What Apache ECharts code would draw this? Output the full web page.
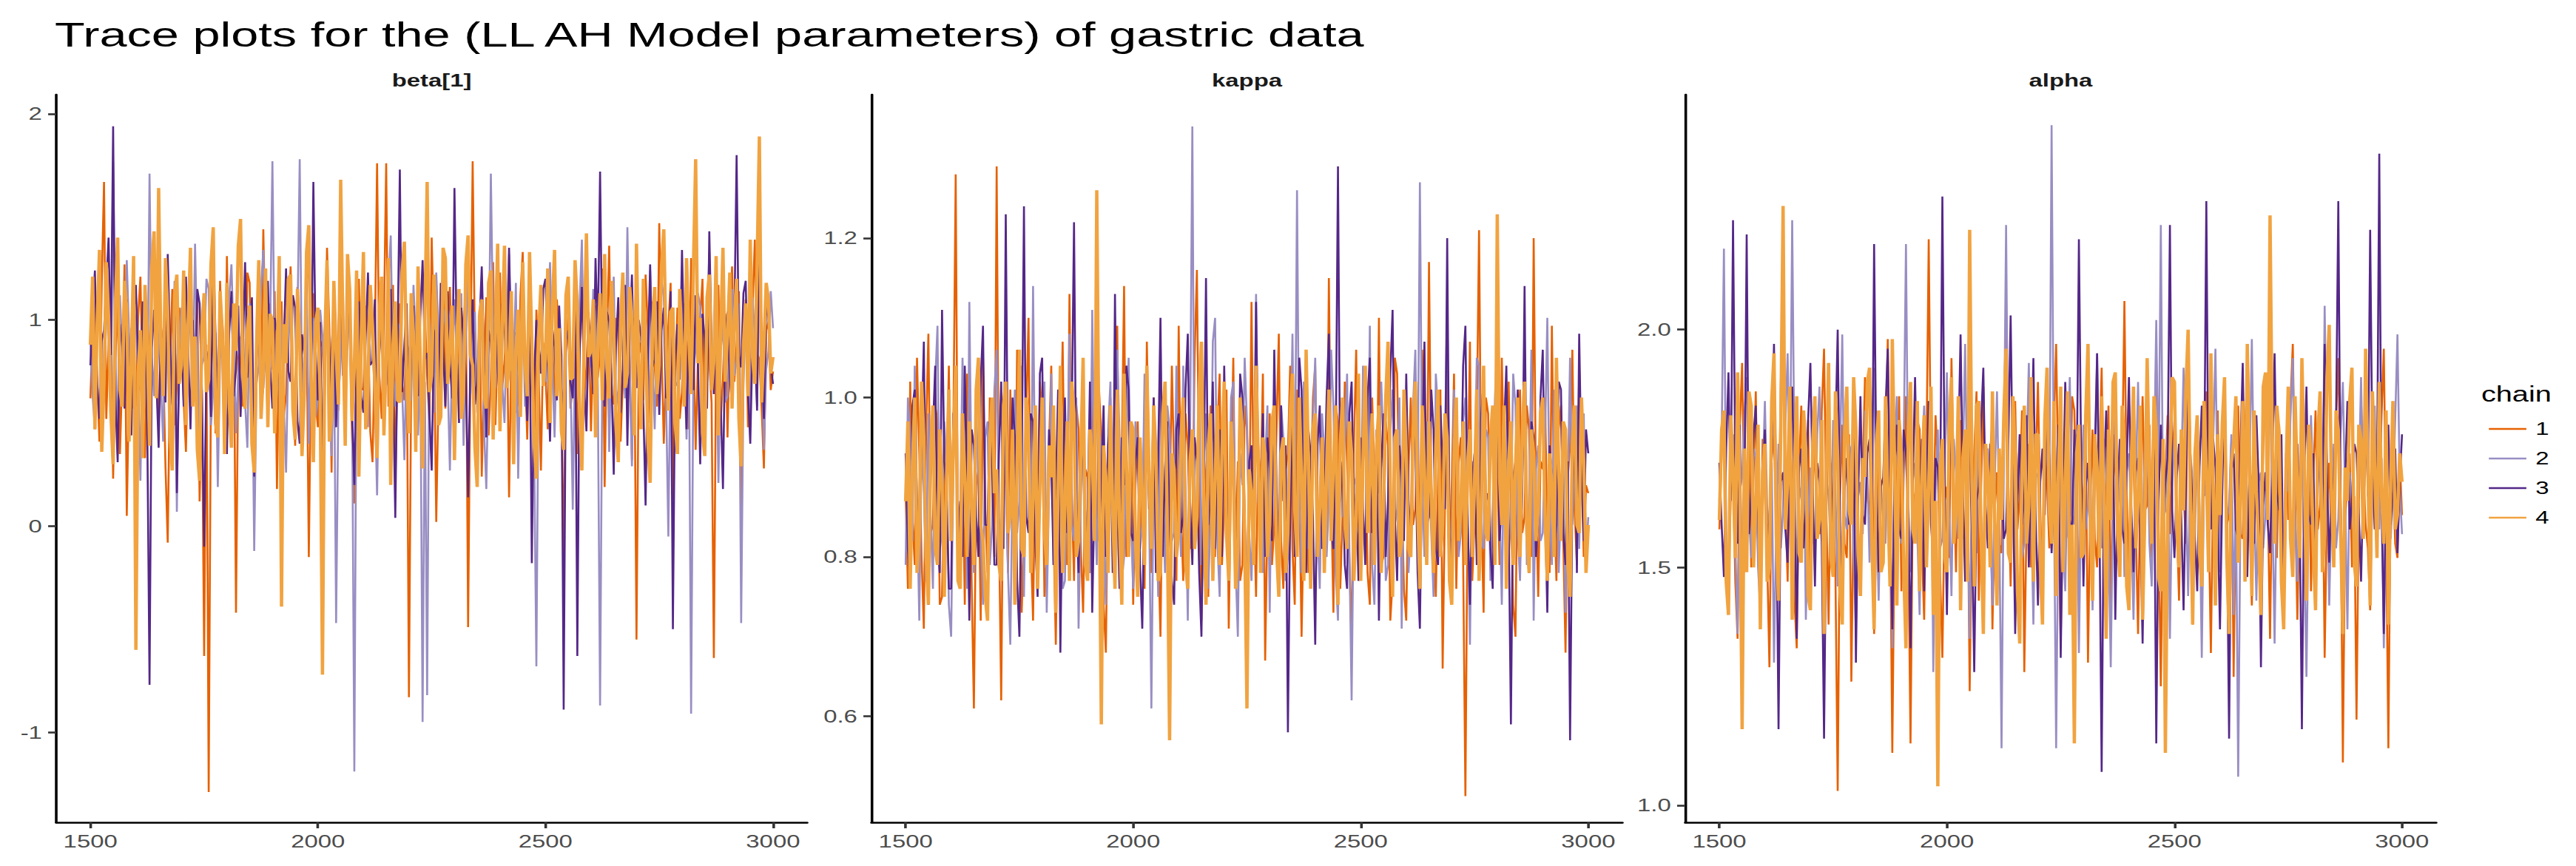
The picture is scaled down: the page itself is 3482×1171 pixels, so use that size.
<!DOCTYPE html>
<html>
<head>
<meta charset="utf-8">
<script src="https://cdn.jsdelivr.net/npm/echarts@6/dist/echarts.min.js"></script>
<style>
html, body { margin: 0; padding: 0; background: #ffffff; overflow: hidden; width: 3482px; height: 1171px; }
#chart { width: 2542px; height: 1171px; transform: scaleX(1.369788); transform-origin: 0 0; }
</style>
</head>
<body>
<div id="chart"></div>
<script>
// ---------------- DATA (values read/estimated from the reference trace plot, every 5th iteration) ----------------
const chainNames = ['1', '2', '3', '4'];
const panelTitles = ['beta[1]', 'kappa', 'alpha'];
const xTickLabels = [1500, 2000, 2500, 3000];
const betaTickLabels = [-1, 0, 1, 2];
const kappaTickLabels = [0.6, 0.8, 1.0, 1.2];
const alphaTickLabels = [1.0, 1.5, 2.0];
const firstIteration = 1500;
const iterationStep = 5;

const betaChain1 = [
0.62,0.94,1.05,0.71,0.41,1.18,1.67,0.52,0.88,1.09,0.23,0.80,1.12,0.35,0.74,1.27,0.05,0.68,0.96,0.57,
0.58,1.02,1.21,0.64,0.33,0.86,0.90,1.13,1.38,0.73,0.47,0.98,0.81,0.29,-0.08,0.77,1.15,0.49,0.69,1.06,
0.97,0.61,0.36,0.92,1.29,0.83,0.72,1.10,0.12,0.66,-0.63,0.88,-1.29,0.74,1.02,0.45,0.55,1.19,0.86,0.39,
1.31,0.70,0.44,1.04,-0.42,0.81,0.92,0.58,0.67,1.23,1.18,0.40,0.29,0.95,0.83,0.62,1.44,0.87,0.51,1.08,
0.76,1.14,0.18,0.85,1.09,0.53,0.64,0.99,1.26,0.71,0.39,1.16,0.95,0.48,0.70,1.01,-0.15,0.79,1.13,0.60,
0.48,0.90,0.87,0.63,1.35,0.97,0.26,1.11,0.79,0.56,1.04,0.84,0.58,1.22,0.93,0.43,0.11,0.76,1.20,0.67,
0.66,1.07,0.99,0.46,0.31,0.89,1.76,0.73,0.52,1.00,1.76,0.58,0.84,1.17,0.20,0.82,1.08,0.69,0.61,0.94,
-0.83,0.75,0.90,0.37,1.25,0.81,0.45,1.03,0.73,0.50,1.40,0.92,0.02,0.65,0.88,1.21,0.57,0.98,1.16,0.70,
0.38,0.96,0.82,0.59,0.97,1.15,-0.49,0.77,1.77,0.86,0.63,1.05,0.24,0.72,1.11,0.44,0.71,1.28,0.49,0.91,
1.23,0.67,0.80,1.02,0.14,0.85,0.95,0.55,0.60,1.12,1.33,0.78,0.42,0.99,0.86,0.31,1.05,0.74,0.27,0.89,
0.74,0.47,1.19,0.93,0.53,1.10,0.91,0.66,-0.21,0.84,1.02,0.57,0.68,1.16,0.35,0.80,1.28,0.62,0.77,1.04,
0.46,0.88,1.07,0.72,0.83,1.25,0.19,0.90,1.36,0.64,0.59,1.01,0.94,0.41,0.70,1.13,1.14,0.79,0.32,0.97,
-0.55,0.83,0.89,0.61,1.22,0.96,0.50,1.09,0.78,0.58,1.47,0.87,0.40,0.75,0.97,1.18,0.13,0.68,1.06,0.52,
0.65,1.08,0.85,0.47,1.30,0.93,0.37,0.81,1.01,1.20,0.56,0.99,0.79,0.60,-0.64,0.86,1.17,0.51,0.72,1.03,
0.43,0.92,1.26,0.70,0.88,1.14,0.09,0.77,1.10,0.48,0.62,1.06,1.39,0.84,0.81,0.57,0.28,0.95,0.99,0.66,
0.75];
const betaChain2 = [
0.91,0.63,0.47,1.04,1.18,0.79,0.70,0.99,1.02,0.55,1.77,0.86,0.35,1.12,0.84,0.60,1.29,0.93,0.58,1.07,
0.99,0.74,0.22,0.95,1.13,0.50,1.71,0.82,0.63,1.10,0.88,0.68,0.41,0.97,1.24,0.56,0.76,1.19,0.07,0.87,
1.06,0.72,0.54,1.01,0.93,0.61,1.37,0.85,0.30,0.78,0.82,1.20,1.15,0.49,0.66,0.94,0.19,0.81,0.97,0.64,
0.72,1.11,1.27,0.88,0.45,0.73,0.89,1.03,0.60,0.38,1.08,0.91,-0.12,0.69,0.78,1.16,1.34,0.83,0.51,0.96,
1.77,0.80,0.68,1.09,0.95,0.59,0.26,0.87,1.12,0.71,0.57,1.00,1.78,0.65,0.83,1.23,0.40,0.90,1.01,0.53,
0.64,1.05,0.92,0.70,1.20,0.81,0.34,0.96,-0.47,0.62,0.80,1.14,0.53,0.88,1.09,0.66,-1.19,0.93,0.75,1.02,
1.30,0.76,0.48,1.08,0.87,0.63,0.15,0.85,1.04,0.57,0.69,1.17,1.41,0.74,0.58,0.99,0.96,0.67,0.32,0.89,
0.85,0.61,1.17,0.90,0.44,0.82,-0.95,0.70,-0.82,1.01,0.79,0.55,1.23,0.94,0.61,1.06,0.98,0.73,0.27,0.84,
1.10,0.80,0.73,1.13,0.39,0.92,1.25,0.64,0.90,1.04,0.55,0.86,1.02,0.47,0.18,0.77,1.71,0.95,0.67,1.09,
0.94,0.69,0.50,0.99,1.32,0.75,0.81,1.18,0.23,0.86,1.14,0.58,0.62,1.03,0.88,0.40,-0.68,0.82,1.05,0.71,
0.70,1.00,1.28,0.79,0.43,0.91,0.97,0.66,0.59,1.12,1.16,0.74,0.08,0.84,0.86,1.07,1.39,0.61,0.52,0.95,
0.77,1.15,1.03,0.68,-0.87,0.80,0.91,1.06,0.36,0.89,1.21,0.57,0.66,0.97,0.84,0.62,1.45,0.78,0.29,1.01,
1.00,0.72,0.60,1.10,0.89,0.54,1.24,0.83,0.47,0.96,0.75,1.19,1.11,0.63,-0.05,0.88,0.93,0.70,0.68,1.05,
1.19,0.81,0.42,0.94,-0.91,0.76,0.86,1.13,1.07,0.59,0.55,0.98,1.33,0.67,0.71,1.02,0.21,0.85,0.99,0.60,
0.63,0.97,1.15,0.73,0.80,1.08,-0.47,0.69,1.02,0.83,0.49,1.11,0.92,0.58,1.26,0.90,0.37,0.76,0.85,1.14,
0.96];
const betaChain3 = [
0.78,1.06,1.24,0.69,0.52,0.90,0.95,1.17,1.40,0.83,1.94,0.62,0.31,0.98,0.87,0.57,1.10,0.74,0.44,1.02,
1.17,0.80,0.66,1.09,0.93,0.48,-0.77,0.86,1.05,0.71,0.38,0.97,0.81,0.60,1.32,0.88,0.59,1.13,0.16,0.75,
0.90,0.58,1.21,0.84,0.47,1.00,0.73,1.15,1.08,0.66,-0.10,0.79,0.85,0.53,1.36,0.92,0.62,1.04,0.99,0.70,
0.35,0.94,1.14,0.63,0.76,1.07,0.53,0.85,1.28,0.72,0.88,1.11,0.24,0.81,1.03,0.59,0.67,0.96,1.19,0.77,
0.57,1.01,0.94,0.68,0.12,0.89,1.25,0.75,0.70,1.12,1.06,0.51,0.40,0.93,0.83,1.18,1.31,0.64,1.67,0.86,
0.61,0.99,0.29,0.82,1.12,0.67,0.86,1.05,0.48,0.91,1.38,0.73,0.74,1.16,0.97,0.56,0.20,0.87,1.09,0.63,
0.55,0.92,1.23,0.78,0.80,1.10,0.37,0.84,1.01,0.60,0.69,0.97,1.15,0.71,0.04,0.89,1.73,0.65,0.88,1.08,
0.45,0.85,1.07,0.70,0.63,1.02,1.29,0.81,0.84,0.54,0.27,0.93,0.96,0.66,1.18,0.87,0.58,1.14,0.79,0.62,
1.64,0.90,0.50,1.06,0.92,0.73,0.14,0.80,1.10,0.59,0.71,0.98,1.26,0.82,0.43,0.95,0.89,0.67,1.04,0.76,
0.60,1.08,0.97,0.69,1.35,0.86,0.33,0.94,0.82,0.57,1.13,0.79,0.51,1.03,-0.18,0.72,1.00,0.88,0.74,1.15,
1.20,0.78,0.41,0.96,0.87,0.61,1.07,0.83,-0.89,0.90,0.95,0.70,0.62,1.11,-0.63,0.85,1.16,0.68,0.46,1.01,
0.83,0.64,1.30,0.92,1.72,0.81,0.58,1.04,0.99,0.73,0.25,0.88,1.11,0.55,0.76,1.17,0.39,0.94,1.22,0.69,
0.67,1.00,0.92,0.58,0.10,0.84,1.27,0.77,0.81,1.09,0.54,0.95,1.06,0.62,0.73,1.14,-0.50,0.80,0.98,0.71,
1.34,0.85,0.47,0.97,0.86,0.66,1.12,0.79,0.30,1.03,0.91,0.57,1.43,0.88,0.64,1.10,0.82,0.60,0.18,0.93,
1.04,0.72,0.59,0.99,1.80,0.83,0.77,1.13,1.19,0.65,0.40,0.90,0.88,0.56,1.66,0.84,0.52,1.07,1.01,0.78,
0.69];
const betaChain4 = [
0.88,1.21,0.47,0.99,1.34,0.36,0.70,1.28,1.02,0.55,0.30,1.08,1.40,0.66,0.58,1.19,1.05,0.41,0.81,1.31,
-0.60,0.74,0.95,0.33,1.17,0.90,0.39,1.26,1.43,0.62,1.64,0.86,0.63,1.30,1.04,0.44,0.27,1.12,1.22,0.69,
0.78,1.24,0.49,1.00,1.35,0.58,0.92,0.37,0.22,0.97,1.13,0.65,0.71,1.27,1.45,0.50,0.43,1.14,0.94,0.35,
1.18,0.60,0.38,1.08,0.85,1.36,1.49,0.72,0.57,0.96,1.07,0.40,0.26,0.87,1.29,0.52,0.75,1.25,0.48,1.03,
1.00,0.45,0.80,1.31,-0.39,0.98,0.79,1.20,1.22,0.56,0.42,1.15,0.91,0.34,0.64,1.33,1.46,0.73,0.31,0.99,
1.06,0.63,-0.72,0.89,1.29,0.41,0.54,1.19,0.84,0.59,1.68,0.95,0.39,1.32,1.14,0.51,0.77,1.24,0.24,0.90,
1.33,0.47,0.68,1.17,0.97,0.70,0.33,1.05,1.21,0.44,0.82,1.30,0.20,0.88,1.09,0.61,0.60,1.23,1.38,0.74,
0.45,1.13,0.93,0.36,1.26,0.80,0.28,1.01,1.67,0.65,0.73,1.22,1.03,0.49,0.53,1.35,1.30,0.69,0.87,1.07,
0.32,0.90,1.15,0.52,0.64,1.27,1.41,0.83,0.78,0.38,0.19,1.02,1.10,0.62,0.57,1.18,1.24,0.42,0.94,1.37,
0.46,0.97,1.36,0.67,0.76,1.14,0.30,0.86,1.05,0.53,1.28,0.79,0.63,1.33,0.89,0.40,0.23,0.93,1.17,0.68,
0.81,1.25,0.50,1.06,1.34,0.63,0.96,0.46,0.37,1.12,1.21,0.71,0.72,1.29,1.07,0.55,0.27,0.91,1.42,0.82,
0.85,1.10,0.43,0.88,1.13,0.61,1.32,0.77,0.62,1.19,0.95,0.48,0.31,0.99,1.23,0.67,0.74,1.16,1.02,0.44,
1.37,0.75,0.47,1.20,0.90,0.41,0.21,0.96,1.16,0.64,0.78,1.26,1.44,0.87,0.56,1.04,1.06,0.50,0.35,1.15,
0.86,0.58,1.30,0.92,0.64,1.24,1.78,0.79,1.01,0.45,0.34,1.11,1.22,0.66,0.80,1.31,0.44,0.94,1.35,0.70,
0.93,1.23,0.57,1.01,1.20,0.52,0.29,0.88,1.08,0.63,1.39,0.82,0.69,1.27,1.89,0.60,0.87,1.18,1.10,0.74,
0.82];

const kappaChain1 = [
0.88,0.76,1.02,0.85,0.79,1.05,0.93,0.80,0.71,0.96,1.08,0.83,0.84,0.99,0.97,0.74,0.75,0.91,0.90,1.04,
0.82,0.97,1.28,0.81,0.86,0.92,0.74,1.03,0.99,0.77,0.61,0.89,0.91,0.72,1.05,0.86,0.78,1.00,0.95,0.80,
1.29,0.84,0.62,0.95,0.89,0.78,1.01,0.87,0.76,1.06,0.94,0.73,0.83,0.98,1.10,0.82,0.72,0.93,0.87,1.02,
0.98,0.75,0.80,0.94,1.04,0.83,0.69,0.90,0.92,1.07,0.85,0.79,1.13,0.88,0.77,0.99,0.96,0.81,0.73,0.91,
0.90,0.78,1.06,0.87,0.81,1.01,0.95,0.74,0.68,0.92,1.00,0.84,0.86,1.09,0.79,0.93,1.14,0.80,0.84,0.97,
0.74,0.89,0.97,0.82,0.88,0.76,1.07,0.91,0.78,1.00,0.93,0.81,0.70,0.95,1.02,0.79,0.85,1.04,0.91,0.77,
1.09,0.86,0.77,0.98,0.94,0.81,0.83,1.05,1.16,0.88,0.72,0.93,0.89,0.75,0.99,0.84,0.80,0.96,1.03,0.79,
0.86,1.01,0.71,0.90,1.05,0.80,0.92,0.77,0.79,0.99,0.96,0.83,1.12,0.87,0.75,0.94,0.88,1.03,0.67,0.85,
0.98,0.79,0.84,0.96,1.08,0.82,0.76,0.91,0.93,1.04,0.81,0.74,1.01,0.89,0.70,0.86,0.95,0.78,0.87,1.00,
1.04,0.83,0.78,0.95,0.90,0.81,1.15,0.88,0.73,0.99,0.97,0.76,0.85,1.02,0.92,0.80,0.69,0.94,1.06,0.84,
0.82,0.93,0.99,0.78,0.74,1.00,0.91,0.85,1.10,0.79,0.80,0.97,0.94,0.72,0.77,1.05,1.03,0.86,0.88,0.76,
0.72,0.91,1.00,0.84,0.86,0.98,0.79,1.06,0.96,0.81,1.17,0.89,0.83,0.75,0.90,1.01,0.66,0.87,1.02,0.78,
0.89,1.03,0.76,0.92,0.95,0.80,0.50,0.88,1.07,0.77,0.84,0.97,1.21,0.86,0.73,1.00,0.98,0.82,0.81,0.94,
0.93,0.79,1.05,0.90,0.78,1.02,0.87,0.74,0.70,0.95,1.01,0.83,0.85,0.99,0.96,0.80,1.20,0.88,0.75,0.92,
0.91,1.00,0.83,0.78,1.09,0.87,0.77,0.96,0.99,0.82,0.68,0.90,0.94,1.06,0.86,0.79,1.04,0.93,0.80,0.89,
0.88];
const kappaChain2 = [
0.79,1.00,0.95,0.82,1.04,0.87,0.72,0.94,0.88,0.77,0.98,0.85,0.76,1.02,1.09,0.81,0.83,0.97,0.91,0.74,
0.70,0.92,1.00,0.80,0.86,1.05,0.93,0.76,1.12,0.88,0.78,0.99,0.89,0.83,0.74,0.95,0.97,0.79,0.84,1.01,
1.06,0.85,0.81,0.97,0.92,0.78,0.69,0.90,1.01,0.83,0.87,1.04,0.75,0.93,0.96,0.80,1.14,0.86,0.80,0.98,
0.90,1.02,0.73,0.88,1.03,0.79,0.85,0.96,0.94,0.76,0.77,0.91,1.08,0.84,0.82,1.00,0.71,0.87,0.99,0.81,
0.86,0.78,1.11,0.89,0.79,0.98,0.92,0.83,0.74,0.96,1.02,0.80,0.88,1.06,0.95,0.77,0.80,0.93,1.05,0.85,
0.76,0.97,0.93,0.81,0.84,1.03,1.00,0.86,0.61,0.91,0.89,0.75,1.07,0.88,0.78,0.99,0.96,0.82,0.83,1.04,
0.91,0.80,1.04,0.89,0.72,0.95,1.34,0.84,0.87,1.01,0.79,0.92,0.98,0.76,0.85,1.07,1.10,0.82,0.75,0.94,
0.94,0.86,0.81,1.00,1.02,0.79,0.70,0.93,0.89,1.05,0.97,0.83,0.77,0.90,1.13,0.87,0.84,0.78,0.92,0.99,
0.73,0.96,1.00,0.82,0.86,0.99,0.95,0.77,0.80,0.90,1.08,0.85,1.26,0.88,0.78,1.02,0.91,0.81,0.83,0.97,
1.05,0.84,0.76,0.98,0.93,0.80,0.87,1.06,0.99,0.78,0.72,0.92,0.85,0.95,1.03,0.81,0.62,0.89,0.90,1.01,
0.82,1.04,0.97,0.85,1.09,0.79,0.74,0.91,0.88,1.02,0.94,0.77,0.79,0.96,1.01,0.84,0.86,1.00,0.71,0.93,
0.96,0.78,0.84,0.99,1.06,0.86,1.27,0.90,0.80,0.97,0.91,0.83,0.75,1.03,0.98,0.81,0.87,0.94,1.12,0.85,
0.78,1.01,0.93,0.80,0.83,0.97,1.00,0.86,0.69,0.92,0.89,1.05,1.04,0.82,0.81,0.96,0.95,0.77,0.86,1.00,
1.07,0.87,0.74,0.95,0.92,0.80,0.85,1.03,0.99,0.83,0.77,0.90,1.02,0.79,0.88,1.06,0.72,0.91,0.94,0.82,
0.83,0.95,1.10,0.86,0.79,1.01,0.96,0.78,0.87,0.93,0.73,0.89,1.05,0.84,0.90,0.99,0.81,0.94,0.98,0.80,
0.85];
const kappaChain3 = [
0.93,0.81,0.77,0.99,1.01,0.86,0.85,0.95,1.07,0.79,0.74,0.90,0.96,1.04,0.82,0.78,1.11,0.92,0.88,0.76,
0.76,0.98,0.99,0.83,0.87,0.80,1.04,0.89,0.72,0.96,0.94,0.85,0.80,1.02,1.09,0.84,0.84,0.97,0.91,0.79,
0.79,0.93,1.02,0.81,1.23,0.88,0.86,1.00,0.95,0.77,0.70,0.91,1.24,0.85,0.83,0.98,0.97,0.82,0.75,1.03,
1.05,0.85,0.81,0.96,0.92,0.79,0.88,1.01,0.68,0.90,1.00,0.83,0.84,0.97,1.22,0.87,0.78,0.94,0.93,0.80,
0.86,1.02,0.73,0.88,1.06,0.82,0.90,0.99,0.80,0.94,0.97,0.78,1.13,0.87,0.76,0.95,0.89,1.04,1.01,0.83,
0.82,0.92,0.95,0.79,0.71,0.89,1.03,0.86,0.87,1.00,0.78,0.93,1.10,0.80,0.91,0.97,0.84,0.77,0.74,0.96,
0.98,0.83,0.85,1.01,1.08,0.87,0.79,0.95,0.92,0.78,0.70,0.90,1.15,0.84,0.88,1.02,0.81,0.93,0.96,0.80,
1.04,0.88,0.77,0.97,0.89,0.81,0.83,1.03,1.00,0.85,0.73,0.92,0.94,0.79,1.12,0.90,0.86,0.98,0.80,0.95,
0.91,0.82,1.06,0.89,0.75,0.99,0.87,0.94,0.58,0.86,0.97,0.80,0.84,1.05,1.01,0.83,0.78,0.96,0.93,0.85,
0.69,0.94,0.99,0.81,0.86,1.00,1.08,0.84,0.81,0.93,1.29,0.87,0.92,0.79,0.76,0.98,1.02,0.85,0.88,0.77,
0.95,0.86,0.79,1.00,1.05,0.83,0.84,0.96,0.72,0.91,0.98,0.80,0.87,1.03,1.11,0.85,0.77,0.94,0.90,0.82,
1.03,0.87,0.82,0.97,0.94,0.78,0.71,0.92,1.07,0.84,0.85,1.01,0.96,0.81,0.79,0.99,0.91,0.86,1.20,0.83,
0.80,0.95,0.97,0.82,0.86,1.04,1.09,0.84,0.74,0.90,0.93,0.79,0.83,0.98,1.02,0.87,0.88,0.81,0.76,0.96,
0.99,0.82,0.87,0.96,1.04,0.85,0.59,0.90,0.92,1.01,0.81,0.88,1.14,0.83,0.78,0.97,0.95,0.80,0.85,1.00,
1.06,0.86,0.73,0.94,0.90,0.81,0.84,1.02,1.01,0.83,0.79,0.92,0.57,0.88,0.97,0.78,1.08,0.91,0.82,0.96,
0.93];
const kappaChain4 = [
0.87,0.97,0.76,0.92,1.00,0.78,0.83,1.02,0.95,0.80,0.74,0.93,0.99,0.81,0.79,0.96,0.89,0.75,0.90,1.01,
0.82,0.94,1.04,0.77,0.76,0.98,0.90,0.80,0.97,0.86,0.79,1.01,1.05,0.84,0.82,0.75,0.72,0.95,1.00,0.88,
0.91,0.79,0.77,0.99,1.02,0.83,0.85,0.96,0.74,0.92,1.06,0.81,0.80,1.00,0.97,0.78,0.87,0.99,0.76,0.89,
1.00,0.83,0.79,0.94,0.90,0.99,0.73,0.88,1.04,0.78,0.86,0.97,0.77,1.02,0.98,0.80,0.82,0.93,1.05,0.79,
0.77,0.96,0.93,0.82,1.26,0.91,0.59,0.94,0.90,0.78,0.99,0.86,0.76,1.01,0.84,0.74,1.03,0.92,0.80,0.97,
0.96,0.82,0.75,0.95,0.88,0.79,1.04,0.90,0.81,0.99,0.93,0.77,0.78,0.98,1.02,0.84,0.57,0.93,0.91,0.80,
0.83,0.95,1.00,0.79,0.76,0.92,0.96,0.81,0.85,1.01,1.07,0.86,0.74,0.94,0.98,0.77,0.90,0.99,0.79,0.93,
1.02,0.83,0.77,0.97,0.91,0.76,0.81,1.00,0.96,0.82,0.61,0.91,0.88,0.79,1.04,0.92,0.78,0.95,0.93,0.80,
0.84,0.97,0.99,0.81,0.75,0.93,0.95,0.78,0.83,0.98,1.03,0.86,0.80,1.00,0.90,0.77,1.06,0.92,0.76,0.96,
0.98,0.80,0.86,0.95,0.78,0.91,1.01,0.82,0.92,0.99,0.74,0.94,1.00,0.84,0.81,0.97,0.93,0.77,0.85,1.03,
0.77,0.92,1.04,0.83,0.89,0.98,0.79,0.94,0.99,0.78,0.86,1.00,1.07,0.89,0.75,0.95,0.96,0.80,0.82,1.01,
0.93,0.81,0.80,0.96,1.02,0.86,0.76,0.99,0.91,0.79,0.97,0.88,0.78,0.94,1.01,0.80,0.84,0.98,0.95,0.77,
0.74,0.93,1.00,0.82,0.86,0.97,0.79,0.92,0.96,0.80,0.89,1.01,0.77,0.86,1.04,0.83,0.82,0.95,0.99,0.79,
1.23,0.90,0.84,0.99,0.76,0.92,0.97,0.79,0.91,1.00,0.80,0.95,1.02,0.83,0.78,0.96,0.93,0.82,0.86,0.98,
1.00,0.85,0.77,0.93,0.89,0.80,1.05,0.91,0.82,0.97,0.96,0.79,0.75,0.94,0.99,0.84,0.83,1.00,0.92,0.78,
0.84];

const alphaChain1 = [
1.58,1.74,1.82,1.53,1.44,1.66,1.71,1.47,1.35,1.80,1.93,1.61,1.62,1.85,1.50,1.69,1.87,1.56,1.40,1.77,
1.66,1.52,1.29,1.73,1.78,1.60,1.55,1.89,2.01,1.64,1.47,1.76,1.69,1.43,1.33,1.70,1.84,1.57,1.60,1.81,
1.42,1.67,1.75,1.59,1.57,1.83,1.96,1.62,1.38,1.72,1.64,1.49,1.03,1.65,1.80,1.55,1.52,1.78,1.26,1.63,
1.73,1.58,1.48,1.71,1.90,1.65,1.61,1.84,1.36,1.59,1.77,1.51,1.54,1.75,1.98,1.63,1.11,1.60,1.68,1.86,
1.45,1.70,1.86,1.57,1.13,1.66,1.63,1.81,1.79,1.54,1.39,1.74,2.19,1.68,1.56,1.82,1.72,1.49,1.31,1.64,
1.67,1.52,1.94,1.69,1.49,1.78,1.81,1.56,1.58,1.73,1.24,1.61,1.74,1.87,1.43,1.66,1.88,1.59,1.60,1.76,
1.37,1.62,1.70,1.55,1.53,1.79,2.04,1.67,1.46,1.72,1.85,1.58,1.65,1.83,1.28,1.60,1.76,1.50,1.51,1.71,
1.89,1.63,1.41,1.75,1.68,1.54,1.59,1.80,1.97,1.66,1.34,1.70,1.73,1.57,1.55,1.86,1.83,1.61,1.44,1.69,
1.62,1.77,1.30,1.64,1.79,1.56,1.50,1.73,1.92,1.60,1.66,1.84,1.40,1.68,1.75,1.53,1.58,1.71,2.06,1.65,
1.47,1.74,1.71,1.58,1.36,1.67,1.86,1.62,1.63,1.80,1.52,1.70,1.95,1.59,1.25,1.64,1.69,1.82,1.57,1.72,
1.81,1.60,1.43,1.69,1.66,1.55,1.99,1.72,1.38,1.63,1.74,1.51,1.54,1.78,1.87,1.61,1.32,1.67,1.64,1.83,
1.49,1.71,1.78,1.59,1.61,1.76,1.27,1.65,1.84,1.57,1.56,1.79,1.91,1.62,1.42,1.68,1.70,1.54,1.53,1.75,
1.88,1.64,1.35,1.70,1.67,1.52,1.80,1.61,1.48,1.73,1.60,1.85,1.97,1.66,1.39,1.62,1.76,1.55,1.58,1.79,
1.45,1.69,1.83,1.58,1.63,1.77,1.31,1.62,1.72,1.56,1.55,1.81,1.94,1.67,1.09,1.60,1.68,1.74,1.50,1.65,
1.18,1.63,1.85,1.71,1.59,1.54,1.41,1.68,1.77,1.60,1.64,1.82,1.96,1.58,1.12,1.66,1.70,1.55,1.52,1.73,
1.61];
const alphaChain2 = [
1.64,1.77,2.17,1.58,1.45,1.70,1.78,1.55,1.36,1.66,1.69,1.82,1.90,1.61,1.52,1.75,1.73,1.50,1.41,1.68,
1.85,1.63,1.57,1.72,1.30,1.59,1.76,1.54,1.62,1.80,1.95,1.67,2.23,1.71,1.48,1.64,1.67,1.82,1.39,1.60,
1.71,1.56,1.54,1.78,1.88,1.62,1.27,1.69,1.65,1.53,1.81,1.66,1.46,1.73,1.99,1.61,1.58,1.76,1.74,1.52,
1.37,1.65,1.68,1.57,1.83,1.70,1.51,1.79,1.92,1.63,1.43,1.67,1.60,1.55,1.77,1.61,1.33,1.72,1.86,1.58,
1.55,1.75,2.18,1.64,1.49,1.68,1.72,1.57,1.40,1.73,1.84,1.60,1.63,1.81,1.28,1.66,1.79,1.54,1.56,1.70,
1.91,1.62,1.44,1.77,1.70,1.56,1.58,1.72,1.97,1.65,1.35,1.69,1.66,1.53,1.82,1.61,1.50,1.74,1.75,1.59,
1.42,1.68,1.87,1.60,1.12,1.71,2.22,1.64,1.61,1.79,1.47,1.66,1.78,1.52,1.55,1.73,1.93,1.63,1.38,1.70,
1.69,1.57,1.52,1.76,1.84,1.62,2.43,1.67,1.12,1.64,1.73,1.55,1.45,1.72,1.90,1.61,1.59,1.78,1.32,1.66,
1.80,1.58,1.63,1.74,1.41,1.69,1.95,1.60,1.54,1.77,1.71,1.56,1.29,1.65,1.86,1.62,1.67,1.81,1.48,1.70,
1.74,1.59,1.39,1.68,1.89,1.64,1.57,1.75,1.83,1.55,1.46,1.71,2.02,1.66,2.22,1.60,1.62,1.78,1.35,1.67,
1.77,1.61,1.53,1.70,1.92,1.65,1.44,1.74,1.68,1.56,1.81,1.63,1.31,1.69,1.72,1.59,1.58,1.76,1.96,1.64,
1.49,1.72,1.85,1.60,1.63,1.78,1.40,1.66,1.06,1.62,1.75,1.57,1.56,1.71,1.98,1.65,1.43,1.68,1.70,1.54,
1.61,1.76,1.87,1.63,1.34,1.69,1.79,1.58,1.52,1.74,1.66,1.82,1.94,1.60,1.47,1.67,1.73,1.55,1.27,1.64,
1.82,1.66,1.55,1.71,1.69,1.58,2.05,1.73,1.42,1.63,1.76,1.54,1.60,1.78,1.89,1.65,1.37,1.70,1.64,1.57,
1.51,1.68,1.90,1.62,1.72,1.77,1.45,1.66,1.84,1.59,1.58,1.73,1.33,1.64,1.78,1.56,1.65,1.81,1.99,1.67,
1.57];
const alphaChain3 = [
1.72,1.59,1.48,1.75,1.91,1.64,2.23,1.70,1.55,1.80,1.38,1.62,2.20,1.57,1.66,1.78,1.84,1.61,1.43,1.69,
1.79,1.56,1.60,1.73,1.97,1.65,1.16,1.68,1.70,1.58,1.51,1.76,1.88,1.63,1.35,1.71,1.75,1.54,1.62,1.81,
1.93,1.67,1.46,1.72,1.68,1.55,1.14,1.63,1.82,1.69,1.57,1.78,2.00,1.60,1.41,1.66,1.73,1.59,1.64,1.85,
1.30,1.65,1.86,1.61,1.59,1.74,1.77,1.56,2.18,1.70,1.49,1.67,1.69,1.83,1.96,1.62,1.37,1.71,1.80,1.58,
1.56,1.79,1.74,1.60,1.33,1.68,1.90,1.64,1.63,1.77,1.45,1.66,1.85,1.59,1.52,1.73,1.71,1.62,2.28,1.69,
1.40,1.70,1.83,1.58,1.61,1.75,1.99,1.66,1.47,1.72,1.76,1.57,1.28,1.64,1.67,1.80,1.92,1.63,1.54,1.74,
1.81,1.62,1.44,1.69,1.70,1.56,1.58,1.77,2.03,1.67,1.36,1.64,1.78,1.59,1.65,1.82,1.50,1.71,1.94,1.60,
1.42,1.68,1.75,1.61,1.87,1.73,1.53,1.66,1.68,1.80,1.31,1.63,1.89,1.70,1.60,1.57,1.79,1.65,2.19,1.72,
1.46,1.67,1.72,1.59,1.57,1.74,1.95,1.62,1.07,1.69,1.83,1.60,1.64,1.78,1.39,1.66,1.77,1.58,1.55,1.71,
1.90,1.63,1.49,1.70,1.73,1.57,1.34,1.68,1.86,1.65,1.61,1.76,1.13,1.64,1.80,1.59,1.68,1.73,2.22,1.62,
1.52,1.69,1.76,1.60,1.41,1.67,1.98,1.72,1.63,1.56,1.45,1.71,1.84,1.65,2.27,1.61,1.58,1.77,1.71,1.59,
1.37,1.66,1.89,1.62,1.14,1.70,1.74,1.58,1.56,1.75,1.93,1.64,1.48,1.71,1.67,1.55,1.82,1.68,1.29,1.63,
1.70,1.59,1.53,1.73,1.95,1.66,1.62,1.78,1.40,1.65,1.81,1.60,1.57,1.72,1.76,1.63,1.16,1.69,1.88,1.61,
1.59,1.74,1.43,1.67,1.77,1.62,1.97,1.70,1.51,1.65,1.69,1.80,2.27,1.63,1.38,1.68,1.85,1.58,1.64,1.76,
1.74,1.61,1.47,1.69,1.92,1.65,2.21,1.72,1.58,1.67,2.37,1.63,1.36,1.71,1.80,1.59,1.66,1.75,1.53,1.68,
1.78];
const alphaChain4 = [
1.60,1.79,1.83,1.47,1.40,1.82,1.71,1.52,1.91,1.66,1.16,1.75,1.49,1.87,1.84,1.50,1.64,1.80,1.37,1.70,
1.76,1.47,1.50,1.85,1.95,1.57,1.43,1.80,2.26,1.58,1.68,1.88,1.39,1.72,1.86,1.53,1.51,1.83,1.75,1.44,
1.41,1.76,1.86,1.56,1.60,1.81,1.36,1.70,1.93,1.52,1.48,1.87,1.73,1.45,1.38,1.77,1.88,1.62,1.59,1.90,
1.79,1.53,1.44,1.73,1.69,1.89,1.92,1.56,1.37,1.76,1.83,1.49,1.51,1.86,1.65,1.46,1.98,1.72,1.42,1.81,
1.74,1.50,1.33,1.78,1.89,1.58,1.55,1.85,1.45,1.69,1.82,1.50,1.67,1.88,1.40,1.64,1.04,1.71,1.77,1.52,
1.49,1.80,1.90,1.55,1.61,1.86,1.41,1.73,1.79,1.47,2.21,1.68,1.46,1.84,1.85,1.57,1.36,1.76,1.70,1.50,
1.87,1.59,1.42,1.75,1.60,1.82,1.96,1.53,1.51,1.86,1.74,1.45,1.34,1.71,1.84,1.55,1.63,1.90,1.47,1.78,
1.78,1.51,1.38,1.81,1.92,1.62,1.55,1.85,1.44,1.70,1.88,1.49,1.68,1.87,1.40,1.59,1.13,1.74,1.80,1.52,
1.53,1.82,1.97,1.60,1.43,1.78,1.71,1.52,1.86,1.66,1.35,1.79,1.60,1.89,1.91,1.57,1.48,1.84,1.76,1.46,
1.41,1.72,1.88,1.54,1.64,1.84,1.39,1.62,1.94,1.68,1.55,1.86,1.79,1.48,1.45,1.77,1.11,1.61,1.73,1.90,
1.89,1.58,1.50,1.79,1.62,1.87,2.00,1.65,1.38,1.74,1.82,1.53,1.46,1.85,1.70,1.49,1.95,1.67,1.42,1.78,
1.61,1.80,1.90,1.52,1.36,1.72,1.76,1.86,1.51,1.63,1.85,1.47,1.97,1.73,1.44,1.83,1.66,1.55,1.40,1.88,
1.91,1.60,2.24,1.75,1.55,1.84,1.78,1.47,1.37,1.70,1.88,1.56,1.48,1.86,1.67,1.52,1.94,1.72,1.43,1.80,
1.74,1.54,1.41,1.78,1.87,1.49,1.57,1.90,2.01,1.66,1.50,1.83,1.79,1.58,1.36,1.71,1.64,1.85,1.92,1.51,
1.46,1.80,1.77,1.56,1.96,1.72,1.42,1.87,1.71,1.52,1.89,1.65,1.55,1.83,1.38,1.68,1.85,1.58,1.61,1.74,
1.68];

// ---------------- STYLE / LAYOUT ----------------
const chainColors = ['#E66101', '#998EC3', '#542788', '#F1A340'];
const chainLineWidths = [1.9, 1.9, 1.9, 3.3];
const panelData = [
  [betaChain1, betaChain2, betaChain3, betaChain4],
  [kappaChain1, kappaChain2, kappaChain3, kappaChain4],
  [alphaChain1, alphaChain2, alphaChain3, alphaChain4]
];
const yTickSets = [betaTickLabels, kappaTickLabels, alphaTickLabels];
const yRanges = [[-1.437, 2.093], [0.467, 1.380], [0.964, 2.494]];
const yFormatters = [v => String(Math.round(v)), v => v.toFixed(1), v => v.toFixed(1)];
const gridLefts = [55.5, 860, 1663];
const gridWidth = 741;
const gridTop = 128;
const gridHeight = 984;
const FONT = '"Liberation Sans", Arial, sans-serif';

function pairs(values) {
  return values.map((v, i) => [firstIteration + i * iterationStep, v]);
}

const grids = [], xAxes = [], yAxes = [], series = [], graphics = [];
for (let p = 0; p < 3; p++) {
  grids.push({ left: gridLefts[p], top: gridTop, width: gridWidth, height: gridHeight, containLabel: false });
  xAxes.push({
    type: 'value', gridIndex: p, min: 1425, max: 3075,
    axisLine: { show: true, onZero: false, lineStyle: { color: '#000000', width: 2.6 } },
    axisTick: { show: true, customValues: xTickLabels, length: 8, lineStyle: { color: '#333333', width: 2.6 } },
    axisLabel: { show: true, customValues: xTickLabels, fontFamily: FONT, fontSize: 24, color: '#4D4D4D', margin: 14,
                 formatter: v => String(v) },
    splitLine: { show: false }
  });
  yAxes.push({
    type: 'value', gridIndex: p, min: yRanges[p][0], max: yRanges[p][1],
    axisLine: { show: true, onZero: false, lineStyle: { color: '#000000', width: 2.6 } },
    axisTick: { show: true, customValues: yTickSets[p], length: 8, lineStyle: { color: '#333333', width: 2.6 } },
    axisLabel: { show: true, customValues: yTickSets[p], fontFamily: FONT, fontSize: 24, color: '#4D4D4D', margin: 14, formatter: yFormatters[p] },
    splitLine: { show: false }
  });
  for (let c = 0; c < 4; c++) {
    series.push({
      type: 'line', name: chainNames[c], xAxisIndex: p, yAxisIndex: p,
      data: pairs(panelData[p][c]),
      showSymbol: false, symbol: 'none', silent: true, animation: false,
      lineStyle: { color: chainColors[c], width: chainLineWidths[c], join: 'bevel' },
      itemStyle: { color: chainColors[c] },
      z: 2 + c
    });
  }
  graphics.push({
    type: 'text', x: gridLefts[p] + gridWidth / 2, y: 108.5,
    style: { text: panelTitles[p], font: 'bold 24px ' + FONT, fill: '#1A1A1A',
             align: 'center', verticalAlign: 'middle', textAlign: 'center', textVerticalAlign: 'middle' }
  });
}
graphics.push({
  type: 'text', x: 54, y: 47, scaleX: 1.058,
  style: { text: 'Trace plots for the (LL AH Model parameters) of gastric data', font: '46px ' + FONT, fill: '#000000',
           align: 'left', verticalAlign: 'middle', textAlign: 'left', textVerticalAlign: 'middle' }
});
graphics.push({
  type: 'text', x: 2448.5, y: 532.6,
  style: { text: 'chain', font: '29px ' + FONT, fill: '#000000',
           align: 'left', verticalAlign: 'middle', textAlign: 'left', textVerticalAlign: 'middle' }
});

const chart = echarts.init(document.getElementById('chart'), null, { renderer: 'svg', width: 2542, height: 1171 });
chart.setOption({
  animation: false,
  backgroundColor: '#ffffff',
  grid: grids,
  xAxis: xAxes,
  yAxis: yAxes,
  legend: {
    show: true, orient: 'vertical', left: 2456, top: 568, padding: 0,
    icon: 'rect', itemWidth: 37, itemHeight: 2.4, itemGap: 16,
    data: chainNames, selectedMode: false,
    textStyle: { fontFamily: FONT, fontSize: 24, color: '#000000', padding: [0, 0, 0, 4] }
  },
  series: series,
  graphic: graphics
});
</script>
</body>
</html>
